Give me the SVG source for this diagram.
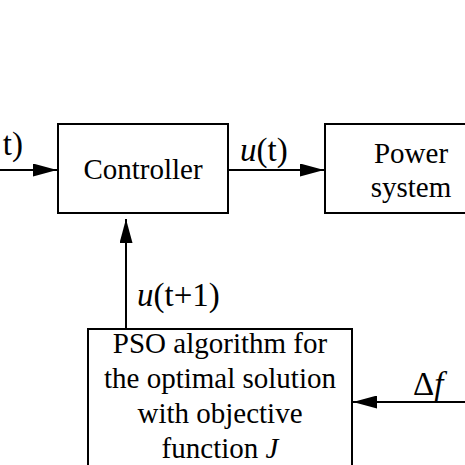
<svg xmlns="http://www.w3.org/2000/svg" width="465" height="465" viewBox="0 0 465 465">
<style>
.box{fill:#fff;stroke:#000;stroke-width:2}
.ln{fill:none;stroke:#000;stroke-width:2}
text{font-family:"Liberation Serif","Times New Roman",serif;font-size:29px;fill:#000}
.c{text-anchor:middle}
.lb{font-size:33px}
.i{font-style:italic}
</style>
<defs>
<marker id="ah" markerWidth="24" markerHeight="13" refX="24" refY="6.5" orient="auto" markerUnits="userSpaceOnUse">
<path d="M0,0 L24,6.5 L0,13 Z" fill="#000"/>
</marker>
</defs>
<rect width="465" height="465" fill="#fff"/>
<g id="connectors">
<line class="ln" x1="0" y1="170" x2="57" y2="170" marker-end="url(#ah)"/>
<line class="ln" x1="228" y1="170" x2="324" y2="170" marker-end="url(#ah)"/>
<line class="ln" x1="126" y1="329" x2="126" y2="219" marker-end="url(#ah)"/>
<line class="ln" x1="466" y1="402" x2="353" y2="402" marker-end="url(#ah)"/>
<text class="lb" x="23" y="155" text-anchor="end">t)</text>
<text class="lb" x="240" y="161"><tspan class="i">u</tspan>(t)</text>
<text class="lb" x="137" y="306"><tspan class="i">u</tspan>(t+1)</text>
<text class="lb" x="413" y="395">Δ<tspan class="i">f</tspan></text>
</g>
<g id="controller">
<rect class="box" x="58" y="124" width="170" height="89"/>
<text class="c" x="143" y="179">Controller</text>
</g>
<g id="power-system">
<rect class="box" x="325" y="124" width="160" height="89"/>
<text class="c" x="411" y="163">Power</text>
<text class="c" x="411" y="197">system</text>
</g>
<g id="pso">
<rect class="box" x="88" y="329" width="264" height="150"/>
<text class="c" x="220" y="353">PSO algorithm for</text>
<text class="c" x="220" y="388">the optimal solution</text>
<text class="c" x="220" y="423">with objective</text>
<text class="c" x="220" y="458">function <tspan class="i">J</tspan></text>
</g>
</svg>
